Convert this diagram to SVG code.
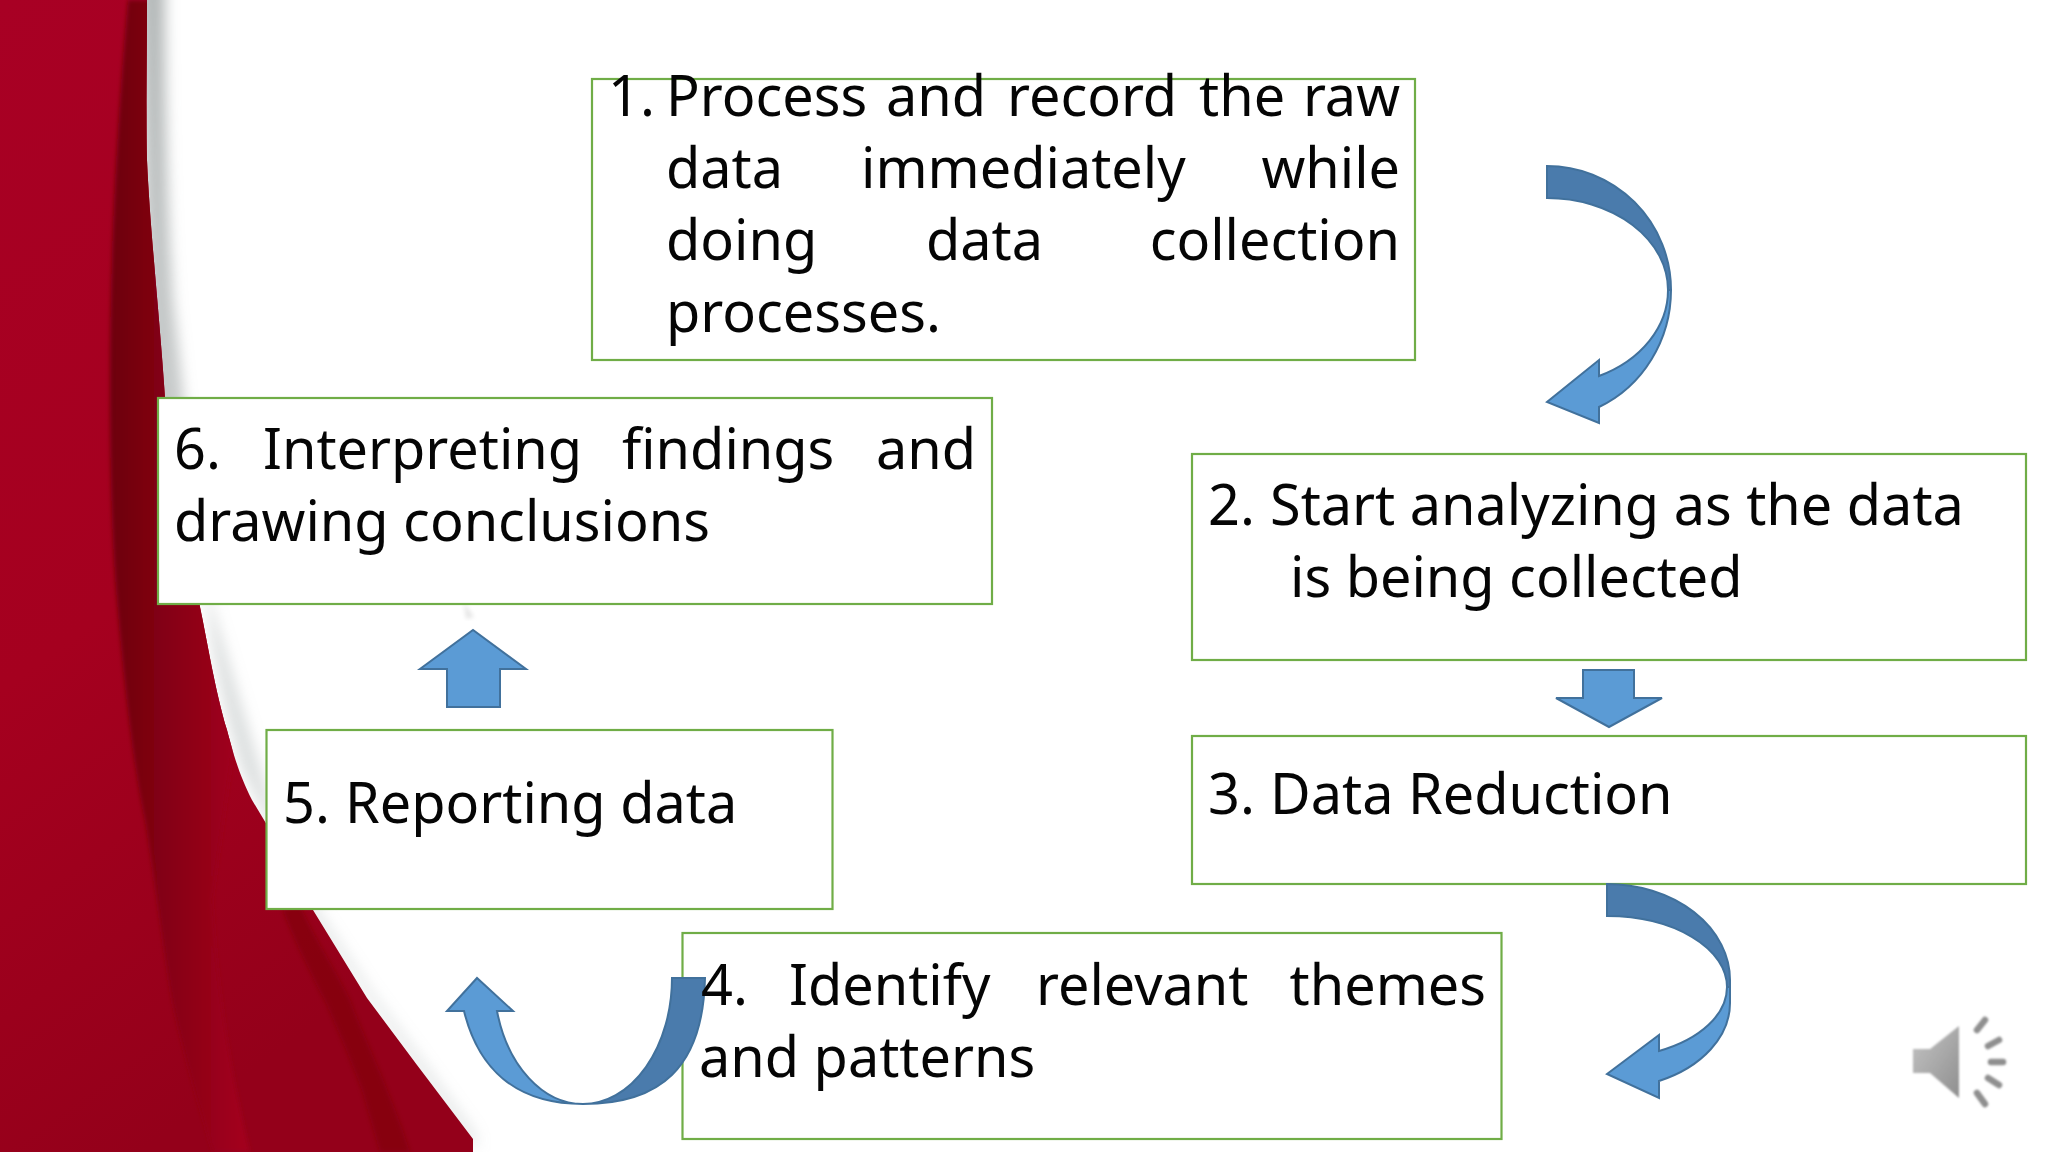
<svg xmlns="http://www.w3.org/2000/svg" width="2048" height="1152" viewBox="0 0 2048 1152">
<style>
.box{fill:#fff;stroke:#70ad47;stroke-width:2.2}
.t{font-family:"Noto Sans","Open Sans","Liberation Sans",sans-serif;font-size:55.8px;fill:#050505}
.e{text-anchor:end}
.lt{fill:#5b9bd5;stroke:#41719c;stroke-width:2;stroke-linejoin:miter}
.dk{fill:#4a7bac;stroke:#41719c;stroke-width:2;stroke-linejoin:miter}
</style>
<defs>
<clipPath id="cc"><path id="cp" d="M0,0 L147,0 C147,60 146,120 147,160 C150,230 160,320 165,398 C180,470 190,540 200,607 C207,640 215,690 227,730 C235,760 240,776 252,800 L267,825 L267,910 L313,910 L367,998 L417,1065 L473,1139 L473,1152 L0,1152 Z"/></clipPath>
<linearGradient id="red" x1="0" y1="0" x2="0.3" y2="1"><stop offset="0" stop-color="#a80024"/><stop offset="0.55" stop-color="#a5001f"/><stop offset="1" stop-color="#94001a"/></linearGradient>
<linearGradient id="fold" gradientUnits="userSpaceOnUse" x1="110" x2="240" y1="0" y2="0"><stop offset="0" stop-color="#6c000f"/><stop offset="0.4" stop-color="#830012"/><stop offset="1" stop-color="#a2001e"/></linearGradient>
<linearGradient id="spk" x1="0" y1="0" x2="1" y2="1"><stop offset="0" stop-color="#c4c4c4"/><stop offset="1" stop-color="#8f8f8f"/></linearGradient>
<linearGradient id="sh" x1="0" y1="0" x2="0" y2="1"><stop offset="0" stop-color="#9aa0a0" stop-opacity="0.75"/><stop offset="0.35" stop-color="#9aa0a0" stop-opacity="0.55"/><stop offset="0.6" stop-color="#a5adad" stop-opacity="0.4"/><stop offset="1" stop-color="#a5adad" stop-opacity="0.3"/></linearGradient>
<filter id="b2" x="-30%" y="-10%" width="160%" height="120%"><feGaussianBlur stdDeviation="2"/></filter>
<filter id="b7" x="-50%" y="-10%" width="200%" height="120%"><feGaussianBlur stdDeviation="7"/></filter>
<filter id="b1" x="-20%" y="-20%" width="140%" height="140%"><feGaussianBlur stdDeviation="1"/></filter>
</defs>
<rect width="2048" height="1152" fill="#fff"/>
<g id="curtain">
<path d="M140,-20 L165,-20 C165,100 167,200 173,300 C181,370 186,420 190,470 C198,530 206,590 212,640 C220,690 230,730 242,770 L276,840 L318,910 L372,992 L424,1062 L476,1134 L476,1152 L300,900 L150,400 Z" fill="url(#sh)" filter="url(#b7)"/>
<use href="#cp" fill="url(#red)"/>
<g clip-path="url(#cc)">
<path d="M128,0 C120,90 110,230 110,380 C110,470 112,540 117,600 C122,660 132,760 145,820 C155,880 165,960 173,1005 C185,1060 200,1110 213,1152 L250,1152 C232,1080 218,1000 212,900 L240,700 L240,500 L190,300 L170,0 Z" fill="url(#fold)" filter="url(#b2)"/>
<path d="M283,910 C290,930 300,952 327,1005 C340,1035 350,1058 362,1090 L380,1152 L410,1152 C390,1090 365,1040 350,1000 C330,960 310,930 300,905 Z" fill="#85000f" opacity="0.85" filter="url(#b2)"/>
</g>
</g>
<path d="M464,603 q6,8 10,14 l-8,2z" fill="#e6e6e6" filter="url(#b2)"/>
<g id="node-1">
<rect class="box" x="592" y="79" width="823" height="281"/>
<text class="t"><tspan x="608" y="116">1.</tspan><tspan x="666" y="116">Process</tspan><tspan x="886" y="116">and</tspan><tspan x="1007" y="116">record</tspan><tspan x="1199" y="116">the</tspan></text><text class="t e" x="1400" y="116">raw</text>
<text class="t"><tspan x="666" y="188">data</tspan><tspan x="861" y="188">immediately</tspan></text><text class="t e" x="1400" y="188">while</text>
<text class="t"><tspan x="666" y="260">doing</tspan><tspan x="926" y="260">data</tspan></text><text class="t e" x="1400" y="260">collection</text>
<text class="t" x="666" y="332">processes.</text>
</g>
<g id="node-2">
<rect class="box" x="1192" y="454" width="834" height="206"/>
<text class="t" x="1208" y="525">2.</text><text class="t" x="1270" y="525">Start analyzing as the data</text>
<text class="t" x="1290" y="597">is being collected</text>
</g>
<g id="node-3">
<rect class="box" x="1192" y="736" width="834" height="148"/>
<text class="t" x="1208" y="814">3.</text><text class="t" x="1270" y="814">Data Reduction</text>
</g>
<g id="node-4">
<rect class="box" x="682.5" y="933" width="819" height="206"/>
</g>
<g id="node-5">
<rect class="box" x="266.5" y="730" width="566" height="179"/>
<text class="t" x="283" y="823">5.</text><text class="t" x="345" y="823">Reporting data</text>
</g>
<g id="node-6">
<rect class="box" x="158" y="398" width="834" height="206"/>
<text class="t"><tspan x="174" y="469">6.</tspan><tspan x="263" y="469">Interpreting</tspan><tspan x="622" y="469">findings</tspan></text><text class="t e" x="976" y="469">and</text>
<text class="t" x="174" y="541">drawing conclusions</text>
</g>
<g id="connectors">
<g id="c1-2"><path class="dk" d="M1547,166 A124,124 0 0 1 1671,290 L1668,290 A121,92 0 0 0 1547,198 Z"/><path class="lt" d="M1671,290 A124,129 0 0 1 1599,407 L1599,423 L1547,402 L1599,360 L1599,376 A121,95 0 0 0 1668,290 Z"/></g>
<g id="c2-3"><path class="lt" d="M1583,670 H1634 V698 H1662 L1609,727 L1556,698 H1583 Z"/></g>
<g id="c3-4"><path class="dk" d="M1607,884 A123,96 0 0 1 1730,980 V987 H1727 A120,71 0 0 0 1607,916 Z"/><path class="lt" d="M1730,987 V1003 A123,86 0 0 1 1659,1081 L1659,1098 L1607,1074 L1659,1035 L1659,1051 A120,71 0 0 0 1727,987 Z"/></g>
<g id="c4-5"><path class="dk" d="M672,978 H705 C703,1068 660,1104 583,1104 A89,126 0 0 0 672,978 Z"/><path class="lt" d="M583,1104 C515,1104 478,1068 464,1011 H447 L477,978 L513,1011 H497 A89,126 0 0 0 583,1104 Z"/></g>
<g id="c5-6"><path class="lt" d="M447,707 V669 H420 L473,630 L526,669 H500 V707 Z"/></g>
</g>
<g id="node-4-text">
<text class="t"><tspan x="701" y="1005">4.</tspan><tspan x="789" y="1005">Identify</tspan><tspan x="1036" y="1005">relevant</tspan></text><text class="t e" x="1486" y="1005">themes</text>
<text class="t" x="699" y="1077">and patterns</text>
</g>
<g id="speaker">
<g fill="none" stroke="#fff" stroke-width="10" stroke-linecap="round" opacity="0.9"><path d="M1977,1031 L1985,1021M1988,1047 L1999,1041M1991,1063 L2003,1063M1988,1079 L1999,1086M1977,1094 L1985,1105"/></g>
<path d="M1913,1049 H1930 L1959,1026 V1098 L1930,1073 H1913 Z" fill="url(#spk)" filter="url(#b1)"/>
<g fill="none" stroke="#8f8f8f" stroke-width="6.5" stroke-linecap="round" filter="url(#b1)"><path d="M1977,1030 L1985,1020M1988,1046 L1999,1040M1991,1062 L2003,1062M1988,1078 L1999,1085M1977,1093 L1985,1104"/></g>
</g>
</svg>
